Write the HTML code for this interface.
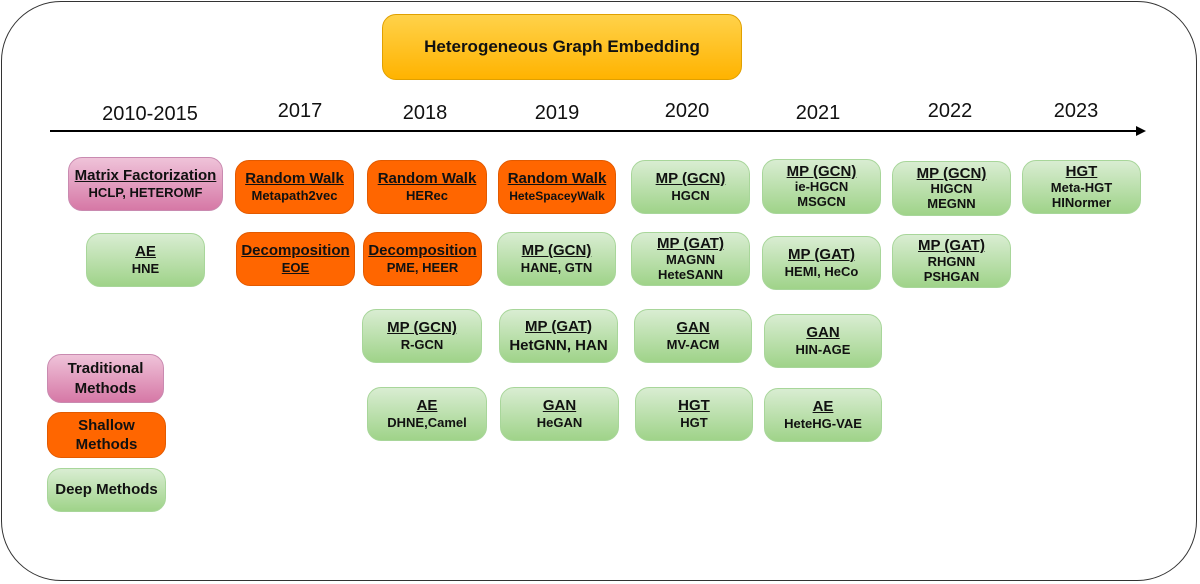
<!DOCTYPE html>
<html><head><meta charset="utf-8"><style>
body{margin:0;width:1200px;height:584px;background:#fff;position:relative;overflow:hidden;font-family:"Liberation Sans",Arial,sans-serif;}
.frame{position:absolute;left:1px;top:1px;width:1196px;height:580px;border:1.5px solid #333;border-radius:60px;box-sizing:border-box;}
.title{position:absolute;left:382px;top:14px;width:360px;height:66px;border-radius:14px;border:1px solid #e0a000;background:linear-gradient(#ffd24a,#ffb300);box-sizing:border-box;display:flex;align-items:center;justify-content:center;font-weight:bold;font-size:17px;color:#111;}
.yr{position:absolute;top:100px;font-size:20px;color:#111;transform:translateX(-50%);}
.axis{position:absolute;left:50px;top:130px;width:1090px;height:2px;background:#000;}
.arrow{position:absolute;left:1136px;top:126px;width:0;height:0;border-left:10px solid #000;border-top:5px solid transparent;border-bottom:5px solid transparent;}
.b{position:absolute;box-sizing:border-box;border-radius:14px;display:flex;flex-direction:column;align-items:center;justify-content:center;text-align:center;font-weight:bold;color:#111;line-height:1.3;}
.g{background:linear-gradient(#d9edd2,#9fd389);border:1px solid #a8d69a;}
.o{background:#ff6600;border:1px solid #e25a00;}
.p{background:linear-gradient(#efc3d9,#d678a6);border:1px solid #c98ab0;}
.b .h{font-size:15px;text-decoration:underline;}
.b .s{font-size:13px;}
.lg{font-size:15px;}
</style></head><body>
<div class="frame"></div>
<div class="title">Heterogeneous Graph Embedding</div>
<div class="axis"></div>
<div class="arrow"></div>
<div class="yr" style="left:150px;top:103px">2010-2015</div>
<div class="yr" style="left:300px">2017</div>
<div class="yr" style="left:425px;top:102px">2018</div>
<div class="yr" style="left:557px;top:102px">2019</div>
<div class="yr" style="left:687px">2020</div>
<div class="yr" style="left:818px;top:102px">2021</div>
<div class="yr" style="left:950px">2022</div>
<div class="yr" style="left:1076px">2023</div>

<div class="b p" style="left:68px;top:157px;width:155px;height:54px"><div class="h">Matrix Factorization</div><div class="s">HCLP, HETEROMF</div></div>
<div class="b o" style="left:235px;top:160px;width:119px;height:54px"><div class="h">Random Walk</div><div class="s">Metapath2vec</div></div>
<div class="b o" style="left:367px;top:160px;width:120px;height:54px"><div class="h">Random Walk</div><div class="s">HERec</div></div>
<div class="b o" style="left:498px;top:160px;width:118px;height:54px"><div class="h">Random Walk</div><div class="s" style="font-size:12px">HeteSpaceyWalk</div></div>
<div class="b g" style="left:631px;top:160px;width:119px;height:54px"><div class="h">MP (GCN)</div><div class="s">HGCN</div></div>
<div class="b g" style="left:762px;top:159px;width:119px;height:55px;line-height:1.15"><div class="h">MP (GCN)</div><div class="s">ie-HGCN</div><div class="s">MSGCN</div></div>
<div class="b g" style="left:892px;top:161px;width:119px;height:55px;line-height:1.15"><div class="h">MP (GCN)</div><div class="s">HIGCN</div><div class="s">MEGNN</div></div>
<div class="b g" style="left:1022px;top:160px;width:119px;height:54px;line-height:1.15"><div class="h">HGT</div><div class="s">Meta-HGT</div><div class="s">HINormer</div></div>

<div class="b g" style="left:86px;top:233px;width:119px;height:54px"><div class="h">AE</div><div class="s">HNE</div></div>
<div class="b o" style="left:236px;top:232px;width:119px;height:54px"><div class="h">Decomposition</div><div class="s" style="text-decoration:underline">EOE</div></div>
<div class="b o" style="left:363px;top:232px;width:119px;height:54px"><div class="h">Decomposition</div><div class="s">PME, HEER</div></div>
<div class="b g" style="left:497px;top:232px;width:119px;height:54px"><div class="h">MP (GCN)</div><div class="s">HANE, GTN</div></div>
<div class="b g" style="left:631px;top:232px;width:119px;height:54px;line-height:1.15"><div class="h">MP (GAT)</div><div class="s">MAGNN</div><div class="s">HeteSANN</div></div>
<div class="b g" style="left:762px;top:236px;width:119px;height:54px"><div class="h">MP (GAT)</div><div class="s">HEMI, HeCo</div></div>
<div class="b g" style="left:892px;top:234px;width:119px;height:54px;line-height:1.15"><div class="h">MP (GAT)</div><div class="s">RHGNN</div><div class="s">PSHGAN</div></div>

<div class="b g" style="left:362px;top:309px;width:120px;height:54px"><div class="h">MP (GCN)</div><div class="s">R-GCN</div></div>
<div class="b g" style="left:499px;top:309px;width:119px;height:54px"><div class="h">MP (GAT)</div><div class="s" style="font-size:15px">HetGNN, HAN</div></div>
<div class="b g" style="left:634px;top:309px;width:118px;height:54px"><div class="h">GAN</div><div class="s">MV-ACM</div></div>
<div class="b g" style="left:764px;top:314px;width:118px;height:54px"><div class="h">GAN</div><div class="s">HIN-AGE</div></div>

<div class="b g" style="left:367px;top:387px;width:120px;height:54px"><div class="h">AE</div><div class="s">DHNE,Camel</div></div>
<div class="b g" style="left:500px;top:387px;width:119px;height:54px"><div class="h">GAN</div><div class="s">HeGAN</div></div>
<div class="b g" style="left:635px;top:387px;width:118px;height:54px"><div class="h">HGT</div><div class="s">HGT</div></div>
<div class="b g" style="left:764px;top:388px;width:118px;height:54px"><div class="h">AE</div><div class="s">HeteHG-VAE</div></div>

<div class="b p lg" style="left:47px;top:354px;width:117px;height:49px">Traditional<br>Methods</div>
<div class="b o lg" style="left:47px;top:412px;width:119px;height:46px">Shallow<br>Methods</div>
<div class="b g lg" style="left:47px;top:468px;width:119px;height:44px">Deep Methods</div>
</body></html>
